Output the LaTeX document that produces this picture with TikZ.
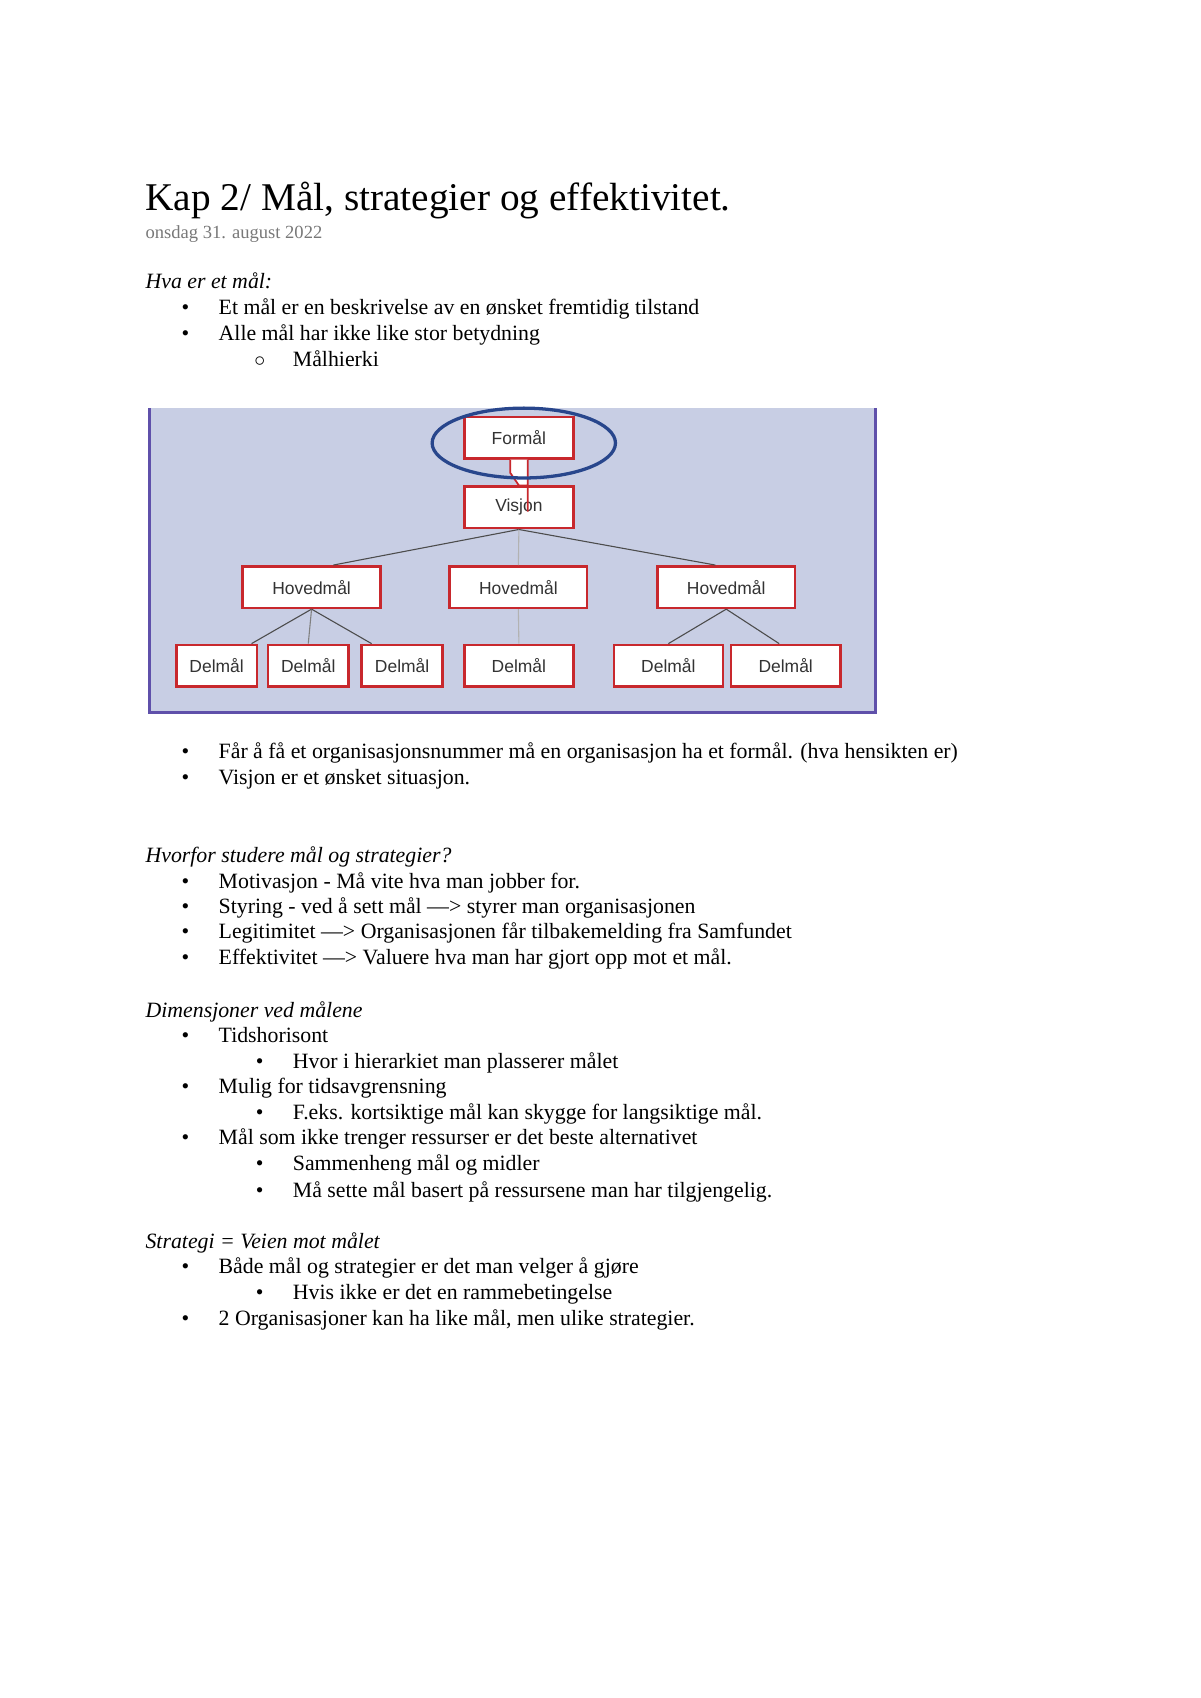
\documentclass[tikz,border=0pt]{standalone}
\usepackage{fontspec}
\setmainfont{Liberation Serif}
\newfontfamily\diagfont{Liberation Sans}
\usetikzlibrary{shapes.geometric}
\definecolor{framefill}{RGB}{200,206,228}
\definecolor{framedraw}{RGB}{95,80,170}
\definecolor{boxred}{RGB}{200,40,45}
\definecolor{ringblue}{RGB}{40,70,140}
\definecolor{dategray}{RGB}{120,120,120}
\begin{document}
\begin{tikzpicture}[x=0.5pt, y=-0.5pt,
    txt/.style={anchor=base west, inner sep=0pt, font=\fontsize{10}{12}\selectfont},
    head/.style={txt, font=\fontsize{10}{12}\selectfont\itshape},
    dot/.style={anchor=base, inner sep=0pt, font=\fontsize{10}{12}\selectfont},
    goal/.style={rectangle, draw=boxred, very thick, fill=white, inner sep=0pt,
                 font=\diagfont\fontsize{8}{9}\selectfont, text=black!80},
    link/.style={draw=black!70, line width=0.5pt},
]
\useasboundingbox (0,0) rectangle (1100,1556);

% Tittel
\node[anchor=base west, inner sep=0pt, font=\fontsize{18}{20}\selectfont] (title) at (133,193)
    {Kap 2/ Mål, strategier og effektivitet.};
\node[anchor=base west, inner sep=0pt, font=\fontsize{8.5}{10}\selectfont, text=dategray] (date) at (133,219)
    {onsdag 31. august 2022};

% Hva er et mål
\node[head] (h1) at (133,264) {Hva er et mål:};
\node[dot] (b1) at (170,288) {\textbullet};
\node[txt] (t1) at (200,288) {Et mål er en beskrivelse av en ønsket fremtidig tilstand};
\node[dot] (b2) at (170,312) {\textbullet};
\node[txt] (t2) at (200,312) {Alle mål har ikke like stor betydning};
\node[dot] (b3) at (238,336) {$\circ$};
\node[txt] (t3) at (268,336) {Målhierki};

% Målhierarki
\fill[framefill] (136,374) rectangle (803,654);
\draw[framedraw, line width=1.5pt] (137,374) -- (137,653) -- (802,653) -- (802,374);

\node[goal, minimum width=50pt, minimum height=19pt] (formal) at (475.5,401) {Formål};
\node[goal, minimum width=50pt, minimum height=19pt] (visjon) at (475.5,465) {Visjon};
\node[goal, minimum width=63pt, minimum height=19pt] (hm1) at (285.5,538) {Hovedmål};
\node[goal, minimum width=63pt, minimum height=19pt] (hm2) at (475,538) {Hovedmål};
\node[goal, minimum width=63pt, minimum height=19pt] (hm3) at (665.5,538) {Hovedmål};
\node[goal, minimum width=37pt, minimum height=19pt] (dm1) at (198.5,610) {Delmål};
\node[goal, minimum width=37pt, minimum height=19pt] (dm2) at (282.5,610) {Delmål};
\node[goal, minimum width=37pt, minimum height=19pt] (dm3) at (368.5,610) {Delmål};
\node[goal, minimum width=50pt, minimum height=19pt] (dm4) at (475.5,610) {Delmål};
\node[goal, minimum width=50pt, minimum height=19pt] (dm5) at (612.5,610) {Delmål};
\node[goal, minimum width=50pt, minimum height=19pt] (dm6) at (720,610) {Delmål};

\draw[boxred, thick, fill=white] ([xshift=-4]formal.south) -- ++(0,12) -- (visjon.north)
    -- ([xshift=4]formal.south |- visjon.north) -- ([xshift=4,yshift=-12]formal.south |- visjon.north) -- ([xshift=4]formal.south);
\node[draw=ringblue, line width=1.5pt, ellipse, minimum width=84pt, minimum height=32pt] (ring) at (480,406) {};

\draw[link] (visjon.south) -- ([xshift=10]hm1.north);
\draw[link, black!30] (visjon.south) -- (hm2.north);
\draw[link] (visjon.south) -- ([xshift=-5]hm3.north);
\draw[link] (hm1.south) -- ([xshift=16]dm1.north);
\draw[link, black!50] (hm1.south) -- (dm2.north);
\draw[link] (hm1.south) -- ([xshift=-14]dm3.north);
\draw[link, black!30] (hm2.south) -- (dm4.north);
\draw[link] (hm3.south) -- (dm5.north);
\draw[link] (hm3.south) -- ([xshift=-3]dm6.north);

\node[dot] (b4) at (170,695) {\textbullet};
\node[txt] (t4) at (200,695) {Får å få et organisasjonsnummer må en organisasjon ha et formål. (hva hensikten er)};
\node[dot] (b5) at (170,719) {\textbullet};
\node[txt] (t5) at (200,719) {Visjon er et ønsket situasjon.};

% Hvorfor studere
\node[head] (h2) at (133,790) {Hvorfor studere mål og strategier?};
\node[dot] (b6) at (170,814) {\textbullet};
\node[txt] (t6) at (200,814) {Motivasjon - Må vite hva man jobber for.};
\node[dot] (b7) at (170,837) {\textbullet};
\node[txt] (t7) at (200,837) {Styring - ved å sett mål ---> styrer man organisasjonen};
\node[dot] (b8) at (170,860) {\textbullet};
\node[txt] (t8) at (200,860) {Legitimitet ---> Organisasjonen får tilbakemelding fra Samfundet};
\node[dot] (b9) at (170,884) {\textbullet};
\node[txt] (t9) at (200,884) {Effektivitet ---> Valuere hva man har gjort opp mot et mål.};

% Dimensjoner
\node[head] (h3) at (133,932) {Dimensjoner ved målene};
\node[dot] (b10) at (170,955) {\textbullet};
\node[txt] (t10) at (200,955) {Tidshorisont};
\node[dot] (b11) at (238,979) {\textbullet};
\node[txt] (t11) at (268,979) {Hvor i hierarkiet man plasserer målet};
\node[dot] (b12) at (170,1002) {\textbullet};
\node[txt] (t12) at (200,1002) {Mulig for tidsavgrensning};
\node[dot] (b13) at (238,1026) {\textbullet};
\node[txt] (t13) at (268,1026) {F.eks. kortsiktige mål kan skygge for langsiktige mål.};
\node[dot] (b14) at (170,1049) {\textbullet};
\node[txt] (t14) at (200,1049) {Mål som ikke trenger ressurser er det beste alternativet};
\node[dot] (b15) at (238,1073) {\textbullet};
\node[txt] (t15) at (268,1073) {Sammenheng mål og midler};
\node[dot] (b16) at (238,1097) {\textbullet};
\node[txt] (t16) at (268,1097) {Må sette mål basert på ressursene man har tilgjengelig.};

% Strategi
\node[head] (h4) at (133,1144) {Strategi = Veien mot målet};
\node[dot] (b17) at (170,1167) {\textbullet};
\node[txt] (t17) at (200,1167) {Både mål og strategier er det man velger å gjøre};
\node[dot] (b18) at (238,1191) {\textbullet};
\node[txt] (t18) at (268,1191) {Hvis ikke er det en rammebetingelse};
\node[dot] (b19) at (170,1215) {\textbullet};
\node[txt] (t19) at (200,1215) {2 Organisasjoner kan ha like mål, men ulike strategier.};
\end{tikzpicture}
\end{document}
